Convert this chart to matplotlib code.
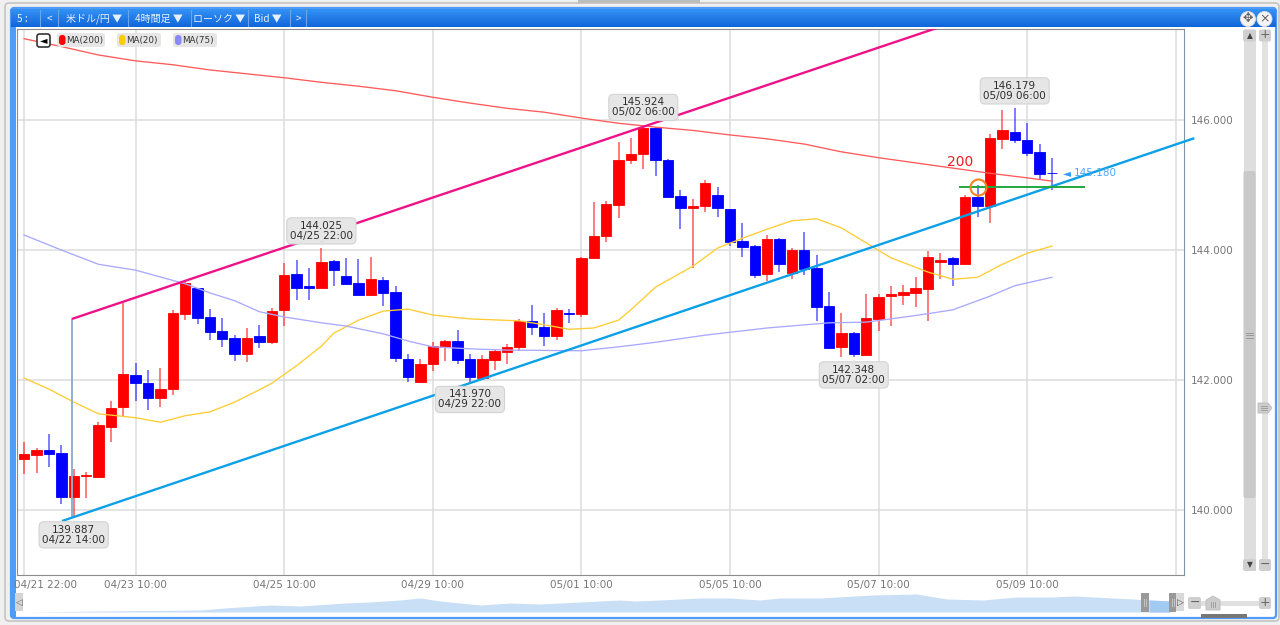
#!/usr/bin/env python

import numpy as np
import matplotlib
matplotlib.use('Agg')
import matplotlib.pyplot as plt
from matplotlib.patches import FancyBboxPatch, Rectangle, Circle, Polygon
from matplotlib.transforms import ScaledTranslation

# 4 hour candles
opens = [140.78, 140.84, 140.92, 140.87, 140.20, 140.52, 140.51, 141.28, 141.58, 142.08,
         141.96, 141.73, 141.86, 143.02, 143.41, 142.97, 142.76, 142.64, 142.40, 142.67,
         142.59, 143.07, 143.63, 143.44, 143.41, 143.83, 143.60, 143.49, 143.31, 143.54,
         143.35, 142.33, 141.97, 142.25, 142.51, 142.60, 142.32, 142.03, 142.31, 142.43,
         142.51, 142.91, 142.81, 142.68, 143.03, 143.01, 143.87, 144.21, 144.70, 145.38,
         145.47, 145.88, 145.39, 144.83, 144.64, 144.67, 144.84, 144.63, 144.14, 144.06,
         143.63, 144.17, 143.65, 144.00, 143.72, 143.14, 142.51, 142.73, 142.38, 142.94,
         143.29, 143.31, 143.34, 143.40, 143.81, 143.87, 143.78, 144.81, 144.67, 145.71,
         145.82, 145.69, 145.50, 145.19]
highs = [141.04, 140.95, 141.17, 141.00, 140.63, 140.59, 141.36, 141.68, 143.18, 142.26,
         142.15, 142.18, 143.07, 143.51, 143.42, 143.09, 142.95, 142.69, 142.80, 142.84,
         143.11, 143.80, 143.85, 143.73, 144.025, 143.85, 143.87, 143.86, 143.90, 143.58,
         143.45, 142.40, 142.32, 142.58, 142.61, 142.77, 142.40, 142.38, 142.47, 142.55,
         142.94, 143.15, 143.03, 143.11, 143.09, 143.89, 144.74, 144.75, 145.66, 145.73,
         145.924, 145.90, 145.40, 144.93, 144.78, 145.08, 144.97, 144.63, 144.42, 144.08,
         144.23, 144.18, 144.03, 144.27, 143.93, 143.36, 143.03, 142.74, 143.32, 143.32,
         143.45, 143.46, 143.59, 143.98, 143.95, 143.90, 144.85, 145.00, 145.78, 146.16,
         146.179, 145.96, 145.63, 145.41]
lows = [140.56, 140.57, 140.66, 140.09, 139.887, 140.18, 140.51, 141.04, 141.45, 141.68,
        141.54, 141.59, 141.77, 142.93, 142.86, 142.62, 142.51, 142.30, 142.28, 142.49,
        142.55, 142.83, 143.23, 143.23, 143.41, 143.44, 143.46, 143.31, 143.30, 143.14,
        142.28, 141.97, 141.97, 142.14, 142.30, 142.25, 141.97, 142.03, 142.16, 142.24,
        142.45, 142.69, 142.52, 142.62, 142.88, 142.97, 143.87, 144.13, 144.50, 145.33,
        145.24, 145.14, 144.80, 144.33, 143.73, 144.58, 144.51, 144.06, 143.89, 143.57,
        143.53, 143.66, 143.55, 143.61, 142.91, 142.48, 142.35, 142.348, 142.38, 142.75,
        142.83, 143.16, 143.13, 142.91, 143.55, 143.45, 143.78, 144.51, 144.42, 145.56,
        145.65, 145.45, 145.08, 144.92]
closes = [140.86, 140.92, 140.86, 140.20, 140.52, 140.54, 141.30, 141.57, 142.09, 141.95,
          141.73, 141.86, 143.03, 143.49, 142.95, 142.74, 142.63, 142.40, 142.65, 142.59,
          143.06, 143.62, 143.42, 143.42, 143.82, 143.70, 143.48, 143.31, 143.55, 143.34,
          142.34, 142.04, 142.24, 142.52, 142.60, 142.31, 142.04, 142.32, 142.44, 142.51,
          142.91, 142.81, 142.68, 143.08, 143.01, 143.88, 144.22, 144.71, 145.38, 145.48,
          145.88, 145.38, 144.81, 144.64, 144.67, 145.03, 144.64, 144.13, 144.05, 143.62,
          144.17, 143.78, 144.00, 143.71, 143.12, 142.50, 142.73, 142.40, 142.95, 143.28,
          143.32, 143.36, 143.41, 143.90, 143.85, 143.78, 144.81, 144.68, 145.72, 145.84,
          145.69, 145.50, 145.17, 145.18]

# moving averages, read at some candles only
ma200_i = [0, 3, 6, 9, 12, 15, 18, 21, 24, 27, 30, 33, 36, 39, 42, 45, 48, 51, 54, 57, 60, 63, 66, 69, 72, 75, 78, 81, 83]
ma200_v = [147.25, 147.13, 147.00, 146.91, 146.85, 146.77, 146.71, 146.65, 146.58, 146.52,
           146.45, 146.35, 146.26, 146.18, 146.12, 146.03, 145.95, 145.89, 145.84, 145.77,
           145.71, 145.63, 145.51, 145.42, 145.34, 145.26, 145.18, 145.11, 145.06]
ma20_i = [0, 2, 4, 6, 9, 11, 13, 15, 17, 19, 20, 22, 24, 25, 27, 29, 31, 33, 36, 40, 42, 44,
          46, 48, 49, 51, 54, 56, 58, 60, 62, 64, 66, 68, 70, 73, 75, 77, 79, 81, 83]
ma20_v = [142.03, 141.86, 141.66, 141.48, 141.42, 141.35, 141.45, 141.51, 141.66, 141.85,
          141.95, 142.22, 142.52, 142.72, 142.92, 143.06, 143.09, 143.00, 142.94, 142.91,
          142.85, 142.78, 142.80, 142.92, 143.08, 143.43, 143.75, 144.03, 144.18, 144.32,
          144.45, 144.48, 144.34, 144.11, 143.88, 143.66, 143.55, 143.58, 143.78, 143.95, 144.06]
ma75_i = [0, 3, 6, 9, 13, 15, 17, 19, 21, 24, 26, 29, 31, 33, 36, 39, 45, 48, 51, 55, 60, 65, 68, 70, 73, 75, 78, 80, 83]
ma75_v = [144.23, 144.00, 143.78, 143.69, 143.48, 143.34, 143.22, 143.05, 142.97, 142.88,
          142.83, 142.71, 142.60, 142.51, 142.48, 142.46, 142.45, 142.51, 142.58, 142.69,
          142.80, 142.88, 142.89, 142.94, 143.02, 143.08, 143.29, 143.45, 143.58]

# drawn lines (candle index, price)
blue_line = ([3.05, 94.5], [139.83, 145.72])
pink_line = ([3.87, 73.7], [142.94, 147.415])
stem_line = ([3.87, 3.87], [142.94, 139.89])
green_line = ([75.6, 85.6], [144.976, 144.976])

# high / low balloons: index, price, text, side
balloons = [(4, 139.887, '139.887\n04/22 14:00', 'below'),
            (24, 144.025, '144.025\n04/25 22:00', 'above'),
            (36, 141.970, '141.970\n04/29 22:00', 'below'),
            (50, 145.924, '145.924\n05/02 06:00', 'above'),
            (67, 142.348, '142.348\n05/07 02:00', 'below'),
            (80, 146.179, '146.179\n05/09 06:00', 'above')]

xtick_i = [0, 9, 21, 33, 45, 57, 69, 81, 93]
xtick_labels = ['04/21 22:00', '04/23 10:00', '04/25 10:00', '04/29 10:00', '05/01 10:00',
                '05/05 10:00', '05/07 10:00', '05/09 10:00', '']
ytick_v = [140, 142, 144, 146]

# overview strip under the chart
ov_pos = [0, 6.6, 15.4, 17.5, 21.5, 24.1, 26.7, 28, 30.2, 32.8, 34.6, 36.3, 39.8, 42.4, 45, 48.5,
          52, 53.3, 55.5, 59, 61.6, 64.2, 66, 69.5, 74, 77.9, 80.5, 83.7, 86.6, 89.8, 91.6, 96.8, 98.2, 100]
ov_val = [0, 1, 2, 4, 7, 6, 8, 9, 10, 12, 14, 11, 7, 9, 8, 10,
          12, 11, 12, 14, 14, 12, 14, 14, 17, 18, 13, 12, 15, 15, 16, 13, 12, 11]

menu_items = [(22, '5 :'), (49, '<'), (94, '米ドル/円 ▼'), (159, '4時間足 ▼'),
              (219, 'ローソク ▼'), (268, 'Bid ▼'), (298, '>')]
menu_seps = [40, 58, 128, 191, 248, 290, 306]

W, H = 1280, 625
CJK = ['Noto Sans CJK JP', 'DejaVu Sans']
GRID = '#dcdcdc'
LABEL = '#777777'
BTN = '#cfcfcf'


def pixel_axes(fig, left, top, right, bottom):
    return fig.add_axes([left / W, 1 - bottom / H, (right - left) / W, (bottom - top) / H])


def rbox(a, x0, y0, x1, y1, fc, ec='none', r=2, lw=1, z=2):
    a.add_patch(FancyBboxPatch((x0 + r, y0 + r), x1 - x0 - 2 * r, y1 - y0 - 2 * r,
                               boxstyle='round,pad=%g,rounding_size=%g' % (r, r),
                               fc=fc, ec=ec, lw=lw, zorder=z))


fig = plt.figure(figsize=(W / 100, H / 100), dpi=100, facecolor='#f0f0f0')

# window chrome, in pixels
bg = fig.add_axes([0, 0, 1, 1], zorder=0)
bg.set_xlim(0, W)
bg.set_ylim(H, 0)
bg.axis('off')
rbox(bg, 5, 3, 1279, 621, '#f0f0f0', ec='#c4c4c4', r=4, lw=1.2, z=1)
bg.add_patch(Rectangle((578, 0), 122, 2.5, fc='#bdbdbd', ec='none', zorder=1))
rbox(bg, 11, 8, 1276, 618, 'white', ec='#4f9bf5', r=3, lw=1.6, z=2)
grad = np.linspace(0, 1, 20).reshape(-1, 1)
grad_rgb = (1 - grad)[..., None] * np.array([[[0.20, 0.57, 0.96]]]) + grad[..., None] * np.array([[[0.07, 0.40, 0.85]]])
bg.imshow(grad_rgb, extent=(11, 1276, 27, 9), aspect='auto', zorder=3)
bg.set_xlim(0, W)
bg.set_ylim(H, 0)
bg.add_patch(Rectangle((11, 27), 5, 590, fc='#4f9bf5', ec='none', zorder=3))
for sx in menu_seps:
    bg.plot([sx, sx], [10, 26], color='#6aa6ee', lw=0.8, zorder=4)
for mx, mt in menu_items:
    bg.text(mx, 18.5, mt, color='#e6f0ff', fontsize=7.2, family=CJK, ha='center', va='center', zorder=5)
for cx, gl in [(1248, '✥'), (1264.5, '×')]:
    bg.add_patch(Circle((cx, 19), 7.5, fc='#f4f4f4', ec='#dddddd', lw=0.6, zorder=4))
    bg.text(cx, 18.5, gl, color='#606060', fontsize=9, ha='center', va='center', zorder=5)

# right hand scroll bars
bg.add_patch(Rectangle((1244, 30), 12, 541, fc='#dedede', ec='none', zorder=3))
bg.add_patch(Rectangle((1262, 30), 6, 541, fc='#e2e2e2', ec='none', zorder=3))
rbox(bg, 1243.5, 171, 1255.5, 498, '#c9c9c9', z=4)
for by, mk in [(35.5, '▲'), (565, '▼')]:
    rbox(bg, 1243, by - 6, 1256, by + 6, BTN, z=5)
    bg.text(1249.5, by, mk, fontsize=5.5, color='#444444', ha='center', va='center', zorder=6)
for by, mk in [(35.5, '+'), (565, '−')]:
    rbox(bg, 1259, by - 6, 1271, by + 6, BTN, z=5)
    bg.text(1265, by - 0.5, mk, fontsize=9, color='#666666', ha='center', va='center', zorder=6)
for hy in [332.5, 335, 337.5]:
    bg.plot([1246, 1253], [hy, hy], color='#999999', lw=0.7, zorder=6)
bg.add_patch(Polygon([(1258, 403), (1268, 403), (1272, 408), (1268, 413), (1258, 413)],
                     fc='#cdcdcd', ec='#bbbbbb', lw=0.6, zorder=6))
for hy in [406, 408, 410]:
    bg.plot([1261, 1267], [hy, hy], color='#999999', lw=0.6, zorder=7)

# bottom scroller furniture
bg.add_patch(Rectangle((15, 593), 8, 18, fc='#d4d4d4', ec='none', zorder=3))
bg.text(19, 602, '◁', fontsize=6.5, color='#666666', ha='center', va='center', zorder=4)
bg.add_patch(Rectangle((1176, 593), 8, 18, fc='#d9d9d9', ec='none', zorder=3))
bg.text(1180.5, 602, '▷', fontsize=6.5, color='#555555', ha='center', va='center', zorder=4)
bg.add_patch(Rectangle((1201, 600.5), 58, 5, fc='#e0e0e0', ec='none', zorder=3))
rbox(bg, 1188, 597, 1201, 609, BTN, z=4)
bg.text(1194.5, 602.5, '−', fontsize=9, color='#666666', ha='center', va='center', zorder=5)
rbox(bg, 1259, 597, 1271, 609, BTN, z=4)
bg.text(1265, 602.5, '+', fontsize=9, color='#666666', ha='center', va='center', zorder=5)
bg.add_patch(Polygon([(1206, 600), (1213, 596), (1220, 600), (1220, 610), (1206, 610)],
                     fc='#cdcdcd', ec='#bbbbbb', lw=0.6, zorder=5))
for vx in [1211, 1213, 1215]:
    bg.plot([vx, vx], [602, 607], color='#999999', lw=0.6, zorder=6)
bg.add_patch(Rectangle((1201, 614), 46, 3.5, fc='#777777', ec='none', zorder=5))

# main chart
ax = pixel_axes(fig, 17, 29, 1184, 575)
ax.set_zorder(2)
ax.set_xlim(-0.58, 93.67)
ax.set_ylim(139.0, 147.40)
ax.set_axisbelow(True)
ax.grid(True, color=GRID, lw=1.1)
for side in ['left', 'bottom', 'top']:
    ax.spines[side].set_color('#8c8c8c')
ax.spines['right'].set_color('#7c93ad')

ax.set_xticks(xtick_i)
ax.set_xticklabels(xtick_labels)
ax.set_yticks(ytick_v)
ax.set_yticklabels(['%.3f' % v for v in ytick_v])
ax.yaxis.tick_right()
ax.tick_params(length=0, labelsize=7.5, labelcolor=LABEL, pad=3.5)
ax.tick_params(axis='y', pad=5)
first = ax.get_xticklabels()[0]
first.set_transform(first.get_transform() + ScaledTranslation(21 / 100, 0, fig.dpi_scale_trans))

idx = np.arange(len(opens))
o = np.array(opens)
c = np.array(closes)
colors = ['#ff0000' if cl >= op else '#0000ff' for op, cl in zip(o, c)]
ax.vlines(idx, lows, highs, colors=colors, lw=1.2, alpha=0.6, zorder=3)
ax.bar(idx, np.abs(c - o), bottom=np.minimum(o, c), width=0.84, color=colors,
       edgecolor=colors, lw=0.6, zorder=4)

ax.plot(ma200_i, ma200_v, color='#ff5a5a', lw=0.95, zorder=5)
ax.plot(ma20_i, ma20_v, color='#ffcc33', lw=0.95, zorder=5)
ax.plot(ma75_i, ma75_v, color='#a9a9ff', lw=0.95, zorder=5)

ax.plot(*stem_line, color='#8fb0cf', lw=1.4, zorder=6)
ax.plot(*pink_line, color='#ee1288', lw=1.7, zorder=7, solid_capstyle='butt')
ax.plot(*blue_line, color='#0da0e6', lw=1.7, zorder=7, clip_on=False, solid_capstyle='butt')
ax.plot(*green_line, color='#1fa83c', lw=1.4, zorder=7)
ax.plot([77], [144.976], 'o', ms=11.5, mfc='none', mec='#f5831f', mew=1.5, zorder=8)
ax.text(75.6, 145.35, '200', color='#ee1c25', fontsize=10, ha='center', va='center', zorder=8)

ax.annotate('◄', xy=(83, 145.18), xytext=(15, 0), textcoords='offset pixels',
            color='#2f9bff', fontsize=7.5, ha='center', va='center', zorder=8)
ax.annotate('145.180', xy=(83, 145.18), xytext=(22, 0), textcoords='offset pixels',
            color='#4da6ff', fontsize=7.5, ha='left', va='center', zorder=8)

for bi, bv, bt, side in balloons:
    sgn = 1 if side == 'above' else -1
    ax.annotate(bt, xy=(bi, bv), xytext=(0, sgn * 17.5), textcoords='offset pixels',
                ha='center', va='center', fontsize=7.5, color='#2e2e2e', linespacing=1.0, zorder=9,
                bbox=dict(boxstyle='round,pad=0.3,rounding_size=0.45', fc='#e6e6e6', ec='#d4d4d4', lw=0.8))
    ax.annotate('▲' if side == 'below' else '▼', xy=(bi, bv), xytext=(0, sgn * 5), textcoords='offset pixels',
                ha='center', va='center', fontsize=5, color='#e0e0e0', zorder=9)

# legend chips on top of the chart
lg = fig.add_axes([0, 0, 1, 1], zorder=3)
lg.set_xlim(0, W)
lg.set_ylim(H, 0)
lg.axis('off')
rbox(lg, 37, 34, 50, 47, 'white', ec='#333333', r=2.5, lw=1.2)
lg.text(43.5, 40.5, '◄', fontsize=7, color='black', ha='center', va='center', zorder=4)
for x0, x1, col, lab in [(57, 105, '#ff0000', 'MA(200)'), (117, 161, '#ffcc00', 'MA(20)'),
                         (173, 217, '#8a8aff', 'MA(75)')]:
    rbox(lg, x0, 33, x1, 47, '#e6e6e6', r=3)
    rbox(lg, x0 + 2, 35, x0 + 8.5, 45, col, r=3, z=3)
    lg.text(x0 + 9.5, 40.5, lab, fontsize=6.3, color='#333333', ha='left', va='center', zorder=4)

# overview strip
ov = pixel_axes(fig, 24, 593, 1170, 612)
ov.set_zorder(2)
ov.set_xlim(0, 100)
ov.set_ylim(0, 19)
ov.axis('off')
ov.fill_between(ov_pos, ov_val, color='#c9dff6', lw=0)
ovp = np.array(ov_pos)
ov.fill_between(ov_pos, ov_val, where=ovp >= 98.2, color='#a3cbf1', lw=0)
for a, b in [(1141, 1149), (1169, 1176)]:
    lg.add_patch(Rectangle((a, 593), b - a, 19, fc='#999999', ec='none', zorder=3))
    lg.plot([(a + b) / 2 - 1, (a + b) / 2 - 1], [599, 606], color='#c4c4c4', lw=0.7, zorder=4)
    lg.plot([(a + b) / 2 + 1, (a + b) / 2 + 1], [599, 606], color='#c4c4c4', lw=0.7, zorder=4)

fig.savefig('out.png', dpi=100, facecolor=fig.get_facecolor())
plt.close()
